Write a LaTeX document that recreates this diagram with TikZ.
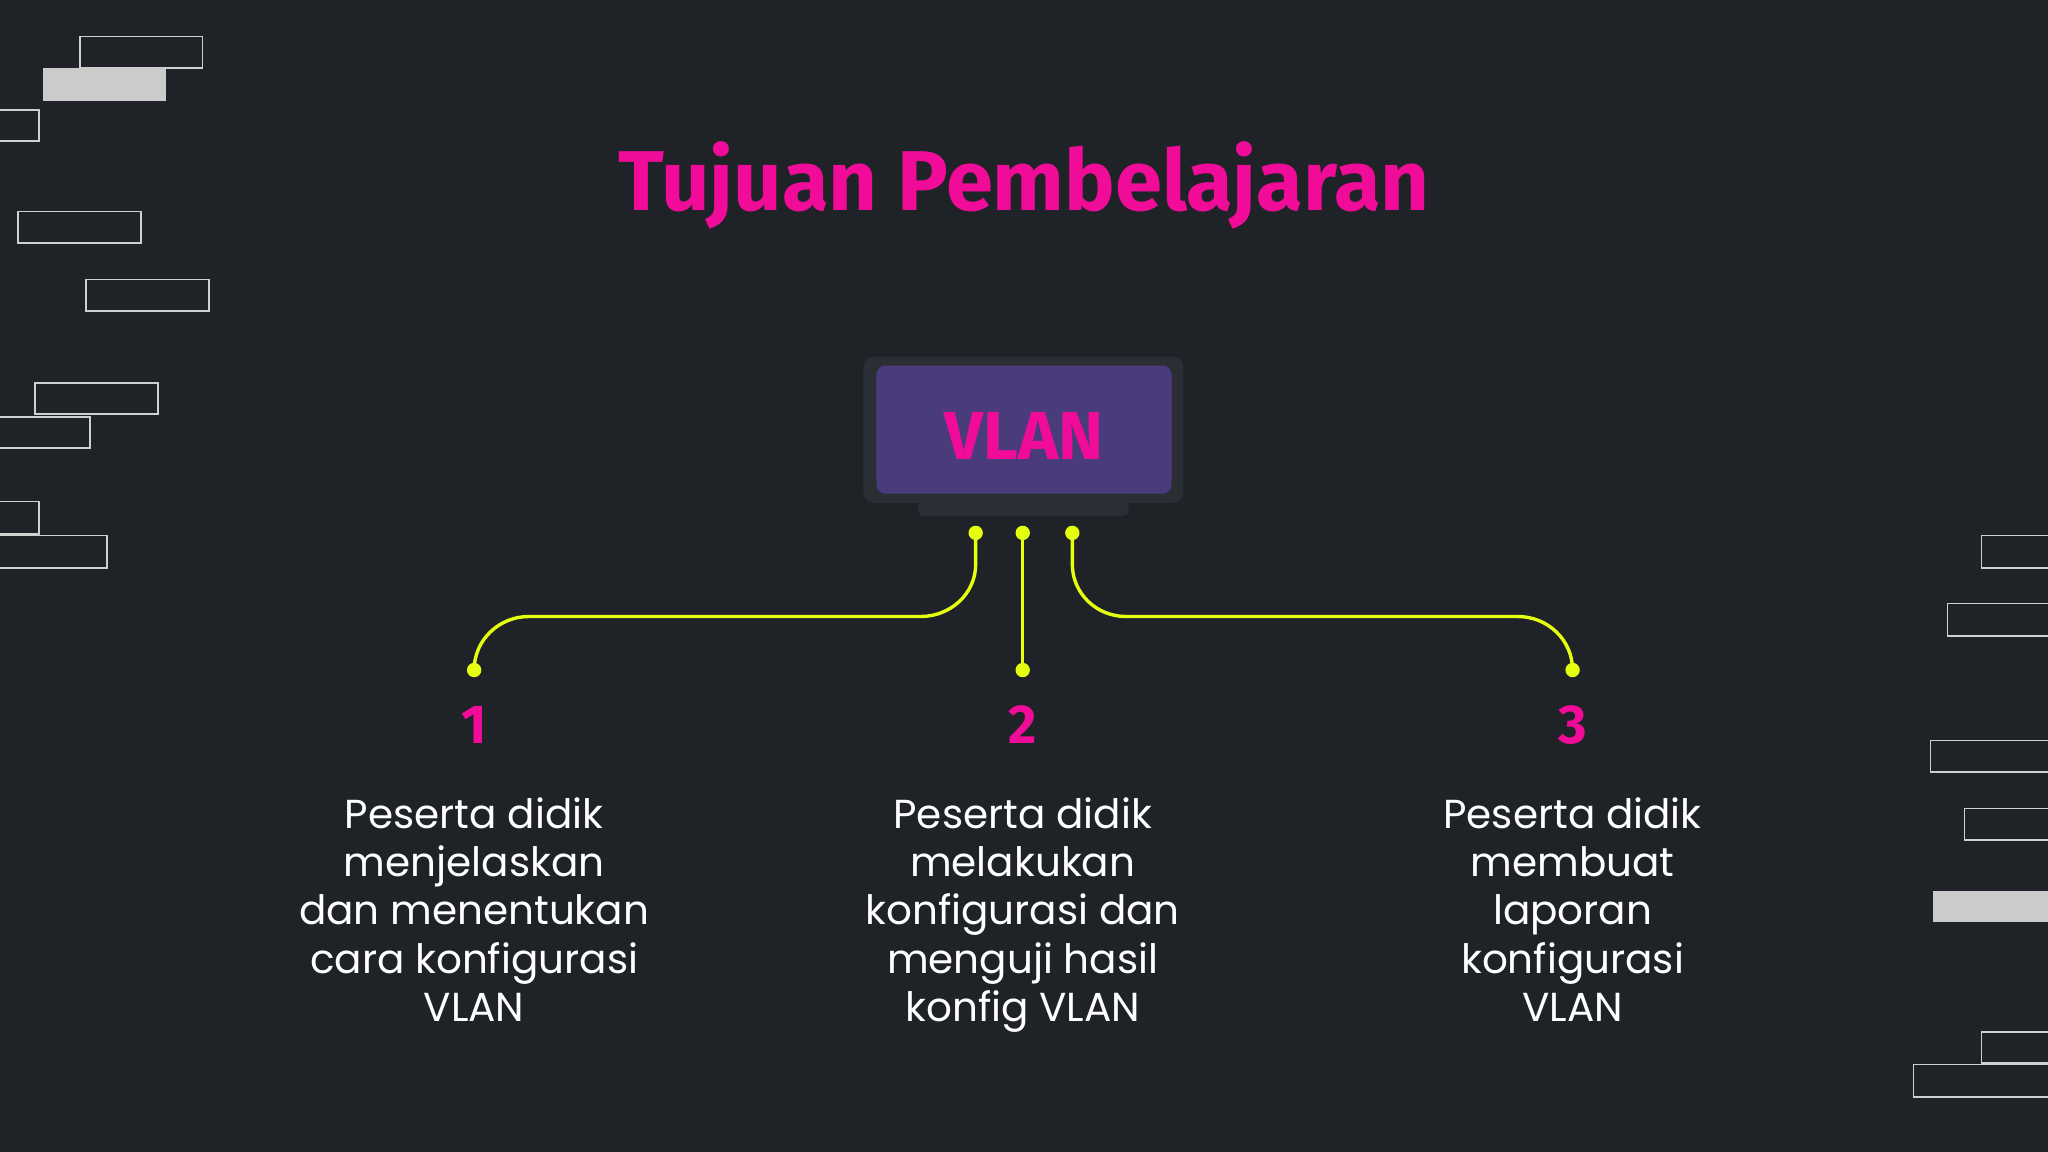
\documentclass[tikz,border=0pt]{standalone}
\usepackage{fontspec}
\setmainfont{Poppins}
\newfontfamily\titlefont{Fira Sans}
\definecolor{bg}{HTML}{1F2226}
\definecolor{mag}{HTML}{F00C98}
\definecolor{yel}{HTML}{E4FF10}
\definecolor{boxout}{HTML}{2B2F35}
\definecolor{boxin}{HTML}{4A3B7A}
\definecolor{deco}{HTML}{D0D0D0}
\begin{document}
\begin{tikzpicture}[x=1pt,y=-1pt,
  decobox/.style={draw=deco,line width=1.3pt},
  decofill/.style={fill=deco!110!white,draw=none},
  conn/.style={draw=yel,line width=2.6pt},
  dot/.style={circle,fill=yel,inner sep=0pt,minimum size=11pt},
  num/.style={text=mag,font=\titlefont\bfseries\fontsize{42}{42}\selectfont},
  desc/.style={text=white,align=center,font=\fontsize{31}{37}\selectfont}]
\fill[bg] (0,0) rectangle (1568,882);
\useasboundingbox (0,0) rectangle (1568,882);
% decorations left
\draw[decobox] (61,28) rectangle (155,52);
\fill[decofill] (33,52) rectangle (127,77);
\draw[decobox] (-2,84) rectangle (30,108);
\draw[decobox] (14,162) rectangle (108,186);
\draw[decobox] (66,214) rectangle (160,238);
\draw[decobox] (27,293) rectangle (121,317);
\draw[decobox] (-2,319) rectangle (69,343);
\draw[decobox] (-2,384) rectangle (30,409);
\draw[decobox] (-2,410) rectangle (82,435);
% decorations right
\draw[decobox] (1517,410) rectangle (1570,435);
\draw[decobox] (1491,462) rectangle (1570,487);
\draw[decobox] (1478,567) rectangle (1570,591);
\draw[decobox] (1504,619) rectangle (1570,643);
\fill[decofill] (1480,682) rectangle (1568,706);
\draw[decobox] (1517,790) rectangle (1570,814);
\draw[decobox] (1465,815) rectangle (1570,840);
% title
\node[text=mag,font=\titlefont\bfseries\fontsize{65}{65}\selectfont] (title) at (784,142) {Tujuan Pembelajaran};
% central box
\fill[boxout,rounded corners=4pt] (703,380) rectangle (864,395);
\fill[boxout,rounded corners=8pt] (661,273) rectangle (906,385);
\fill[boxin,rounded corners=7pt] (671,280) rectangle (897,378);
\node[text=mag,font=\titlefont\bfseries\fontsize{52}{52}\selectfont] (vlan) at (784,334) {VLAN};
% dots
\node[dot] (s1) at (747,408) {};
\node[dot] (s2) at (783,408) {};
\node[dot] (s3) at (821,408) {};
\node[dot] (e1) at (363,513) {};
\node[dot] (e2) at (783,513) {};
\node[dot] (e3) at (1204,513) {};
\draw[conn] (s1.center) -- (747,432) to[out=-90,in=0] (705,472) -- (405,472) to[out=180,in=90] (e1.center);
\draw[conn] (s2.center) -- (e2.center);
\draw[conn] (s3.center) -- (821,432) to[out=-90,in=180] (862,472) -- (1162,472) to[out=0,in=90] (e3.center);
% numbers
\node[num] (n1) at (363,555) {1};
\node[num] (n2) at (783,555) {2};
\node[num] (n3) at (1204,555) {3};
% descriptions
\node[desc,anchor=north] (d1) at (363,607) {Peserta didik\\menjelaskan\\dan menentukan\\cara konfigurasi\\VLAN};
\node[desc,anchor=north] (d2) at (783,607) {Peserta didik\\melakukan\\konfigurasi dan\\menguji hasil\\konfig VLAN};
\node[desc,anchor=north] (d3) at (1204,607) {Peserta didik\\membuat\\laporan\\konfigurasi\\VLAN};
\end{tikzpicture}
\end{document}
